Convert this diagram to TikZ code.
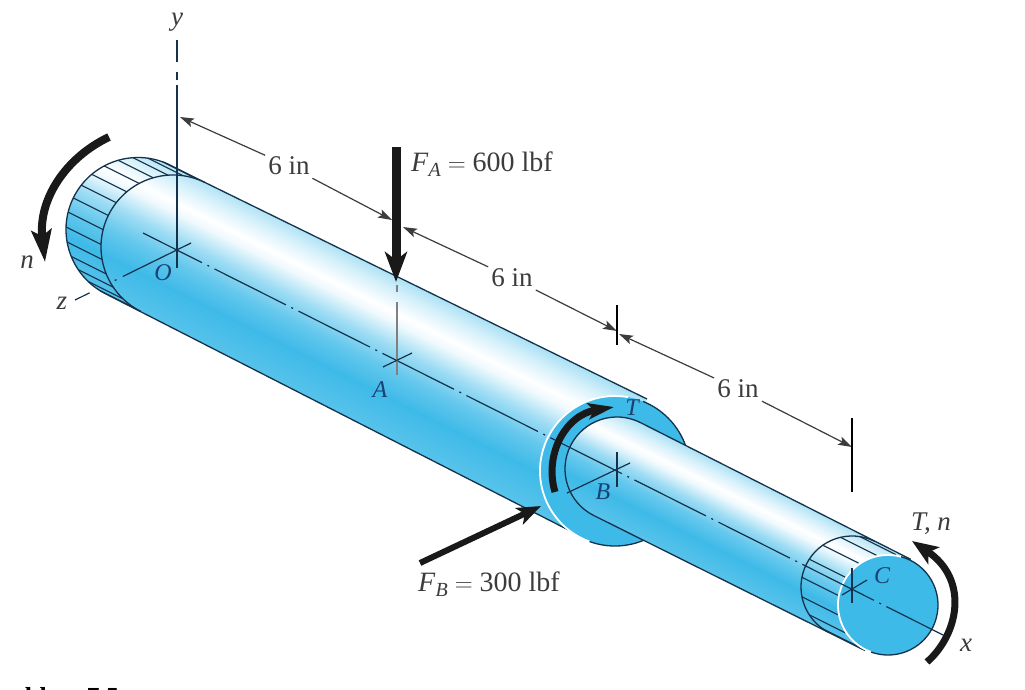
\documentclass[tikz,border=0pt]{standalone}
\usepackage{fontspec}
\setmainfont{Liberation Serif}
\usetikzlibrary{calc,arrows.meta}
\definecolor{shaftcyan}{RGB}{62,186,232}
\definecolor{inkblue}{RGB}{20,50,75}
\definecolor{labelgray}{RGB}{60,60,60}
\definecolor{labelblue}{RGB}{25,65,115}
\pgfdeclareverticalshading{shaftshade}{100bp}{%
  color(0bp)=(shaftcyan!85!white);
  color(25bp)=(shaftcyan!85!white);
  color(38bp)=(shaftcyan);
  color(46bp)=(shaftcyan!80!white);
  color(53bp)=(shaftcyan!50!white);
  color(60bp)=(shaftcyan!8!white);
  color(63bp)=(white);
  color(69bp)=(shaftcyan!22!white);
  color(75bp)=(shaftcyan!50!white);
  color(100bp)=(shaftcyan!50!white)}
\newcommand{\lowidx}[1]{\raisebox{-0.4ex}{\fontsize{20}{22}\selectfont\textit{#1}}}
\begin{document}
\begin{tikzpicture}[x=1pt,y=-1pt,font=\fontsize{27}{30}\selectfont,
    every node/.style={inner sep=3pt,text=labelgray},
    onshaft/.style={text=labelblue,font=\fontsize{24}{28}\selectfont\itshape},
    loadlabel/.style={anchor=west,inner sep=0pt,font=\fontsize{28}{30}\selectfont},
    edge/.style={inkblue,line width=1.3pt},
    hatch/.style={inkblue,line width=1.1pt},
    centerline/.style={inkblue,line width=1.2pt,dash pattern=on 80pt off 6pt on 2pt off 6pt},
    crossline/.style={inkblue,line width=1.2pt},
    dimline/.style={labelgray,line width=1.2pt,-{Stealth[length=14pt,width=9pt,inset=3pt]}},
    tick/.style={black,line width=1.2pt},
    bigarrow/.style={black!90,line width=#1}]
  \useasboundingbox (0,0) rectangle (1025,690);

  \coordinate (back) at (138,229.5);
  \coordinate (front) at (173,247);
  \coordinate (flange) at (615,471);
  \coordinate (hole) at (617,469);
  \coordinate (endback) at (852,587);
  \coordinate (endface) at (888,605);

  % large diameter with its chamfer
  \coordinate (bigtop) at (647,399);
  \coordinate (bigbot) at (592,542);
  \begin{scope}
    \clip ($(back)+(116.6:72)$) arc [start angle=116.6,end angle=296.6,radius=72]
      -- ($(front)+(296.6:72)$) -- (bigtop) -- (bigbot) -- ($(front)+(116.6:72)$) -- cycle;
    \begin{scope}[transform canvas={rotate around={-26.6:(front)}}]
      \shade [shading=shaftshade] (60,168) rectangle (760,326);
    \end{scope}
  \end{scope}
  \foreach \ang in {122,134,...,298}
    \draw [hatch] ($(back)+(\ang:72)$) -- ($(front)+(\ang:72)$);
  \draw [edge] ($(back)+(116.6:72)$) arc [start angle=116.6,end angle=296.6,radius=72]
    -- ($(front)+(296.6:72)$);
  \draw [edge] ($(front)+(116.6:72)$) arc [start angle=116.6,end angle=296.6,radius=72]
    -- (bigtop);
  \draw [edge] ($(back)+(116.6:72)$) -- (bigbot);

  % shoulder
  \fill [shaftcyan] (flange) circle [radius=75];
  \draw [edge] ($(flange)+(292:75)$) arc [start angle=292,end angle=470,radius=75];
  \draw [white,line width=1.8pt] ($(flange)+(110:75)$) arc [start angle=110,end angle=280,radius=75];

  % small diameter
  \coordinate (smalltop) at ($(endface)+(296.6:51)$);
  \coordinate (smallbot) at ($(endface)+(116.6:51)$);
  \begin{scope}
    \clip ($(hole)+(116.6:52)$) arc [start angle=116.6,end angle=296.6,radius=52]
      -- (smalltop) -- (smallbot) -- cycle;
    \begin{scope}[transform canvas={rotate around={-26.6:(hole)}}]
      \shade [shading=shaftshade] (540,414) rectangle (960,524);
    \end{scope}
  \end{scope}
  \draw [edge] ($(hole)+(116.6:52)$) arc [start angle=116.6,end angle=296.6,radius=52]
    -- (smalltop);
  \draw [edge] ($(hole)+(116.6:52)$) -- (smallbot);

  % right end
  \foreach \ang in {125,147,...,295}
    \draw [hatch] ($(endback)+(\ang:51)$) -- ($(endface)+(\ang:51)$);
  \draw [edge] ($(endback)+(116.6:51)$) arc [start angle=116.6,end angle=296.6,radius=51];
  \fill [shaftcyan] (endface) circle [radius=50];
  \draw [edge] ($(endface)+(285:50)$) arc [start angle=285,end angle=470,radius=50];
  \draw [white,line width=1.8pt] ($(endface)+(110:50)$) arc [start angle=110,end angle=285,radius=50];

  % axes
  \coordinate (axisstart) at (143,233);
  \coordinate (axisend) at (945,636);
  \draw [centerline,dash phase=14pt] (axisstart) -- (axisend);
  \node (y) at (177,22) {\textit{y}};
  \node (z) at (62,303) {\textit{z}};
  \node (x) at (966,645) {\textit{x}};
  \coordinate (ytop) at (177,40);
  \coordinate (ybot) at (177,268);
  \draw [crossline,line width=1.5pt,dash pattern=on 22pt off 10pt on 8pt off 5pt on 300pt] (ytop) -- (ybot);
  \coordinate (zfree) at (75,300);
  \coordinate (zback) at (191,243);
  \draw [crossline,dash pattern=on 76pt off 7pt on 2pt off 28pt on 20pt] (zback) -- (zfree);

  % sections at A, B, C
  \coordinate (Atop) at (397,285);
  \coordinate (Abot) at (397,375);
  \draw [crossline,gray,dash pattern=on 7pt off 10pt on 100pt] (Atop) -- (Abot);
  \coordinate (Az1) at (383,367);
  \coordinate (Az2) at (412,353);
  \draw [crossline] (Az1) -- (Az2);
  \coordinate (Btop) at (617,452);
  \coordinate (Bbot) at (617,487);
  \draw [crossline] (Btop) -- (Bbot);
  \coordinate (Bz1) at (567,493);
  \coordinate (Bz2) at (630,463);
  \draw [crossline] (Bz1) -- (Bz2);
  \coordinate (Ctop) at (852,568);
  \coordinate (Cbot) at (852,603);
  \draw [crossline] (Ctop) -- (Cbot);
  \coordinate (Cz1) at (842,595);
  \coordinate (Cz2) at (867,580);
  \draw [crossline] (Cz1) -- (Cz2);

  \node [onshaft] (labO) at (163,273) {O};
  \node [onshaft] (labA) at (380,390) {A};
  \node [onshaft] (labB) at (603,492) {B};
  \node [onshaft] (labC) at (882,576) {C};
  \node [onshaft] (labT) at (632,408) {T};

  % dimensions
  \node (d1) at (289,166) {6 in};
  \node (d2) at (512,278) {6 in};
  \node (d3) at (738,389) {6 in};
  \coordinate (p0) at (180,117);
  \coordinate (p1a) at (392,220);
  \coordinate (p1b) at (403,227);
  \coordinate (p2a) at (617,331);
  \coordinate (p2b) at (619,334);
  \coordinate (p3) at (852,447);
  \draw [dimline] (d1) -- (p0);
  \draw [dimline] (d1) -- (p1a);
  \draw [dimline] (d2) -- (p1b);
  \draw [dimline] (d2) -- (p2a);
  \draw [dimline] (d3) -- (p2b);
  \draw [dimline] (d3) -- (p3);
  \coordinate (t1a) at (617,305);
  \coordinate (t1b) at (617,345);
  \coordinate (t2a) at (852,418);
  \coordinate (t2b) at (852,492);
  \draw [tick] (t1a) -- (t1b);
  \draw [tick] (t2a) -- (t2b);

  % loads
  \coordinate (FAtail) at (396,147);
  \coordinate (FAtip) at (396,282);
  \draw [bigarrow=9pt,-{Stealth[length=30pt,width=22pt,inset=8pt]}] (FAtail) -- (FAtip);
  \node [loadlabel] (FA) at (411,164) {\textit{F}\lowidx{A} $=$ 600 lbf};
  \coordinate (FBtail) at (420,563);
  \coordinate (FBtip) at (541,506);
  \draw [bigarrow=6pt,-{Stealth[length=24pt,width=18pt,inset=6pt]}] (FBtail) -- (FBtip);
  \node [loadlabel] (FB) at (418,584) {\textit{F}\lowidx{B} $=$ 300 lbf};

  % torques and rotation
  \coordinate (Ttail) at (555,492);
  \coordinate (Ttip) at (614,407);
  \draw [bigarrow=7pt,-{Stealth[length=26pt,width=16pt,inset=6pt]}] (Ttail)
    .. controls (544,455) and (565,415) .. (Ttip);
  \coordinate (ntail) at (109,137);
  \coordinate (ntip) at (45,262);
  \draw [bigarrow=8pt,-{Stealth[length=32pt,width=20pt,inset=6pt]}] (ntail)
    .. controls (65,158) and (38,200) .. (ntip);
  \node (n) at (27,262) {\textit{n}};
  \coordinate (Rtail) at (927,662);
  \coordinate (Rtip) at (912,541);
  \draw [bigarrow=7pt,-{Stealth[length=26pt,width=20pt,inset=6pt]}] (Rtail)
    .. controls (958,635) and (970,580) .. (Rtip);
  \node (Tn) at (931,524) {\textit{T, n}};

  \node [anchor=base west,inner sep=0pt,text=black,font=\fontsize{26}{30}\selectfont\bfseries] (prob) at (-15,705) {Problem 7.5};
\end{tikzpicture}
\end{document}
